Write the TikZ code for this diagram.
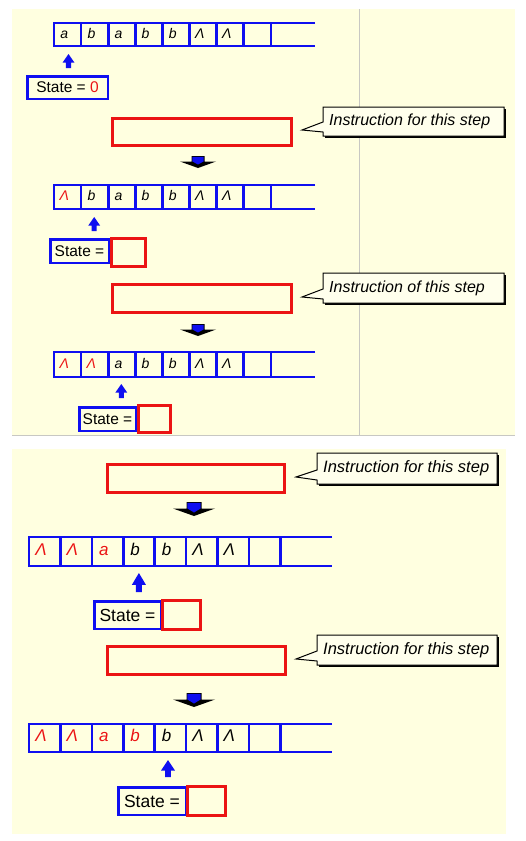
\documentclass[tikz,border=0pt]{standalone}
\usepackage{fontspec}
\setmainfont{Liberation Sans}
\definecolor{bgy}{RGB}{255,255,224}
\definecolor{calloutbg}{RGB}{255,255,236}
\definecolor{tblue}{RGB}{15,15,240}
\definecolor{tred}{RGB}{235,20,20}
\definecolor{panelline}{RGB}{200,200,195}
\newcommand\fsz[1]{\fontsize{#1}{#1}\selectfont}
% #1 prefix, #2 x0, #3 ytop, #4 ybot, #5 cell width, #6 x end, #7 font size, #8 cells
\newcommand\tapedraw[8]{%
  \draw[tapeline] (#6,#3) -- (#2,#3) -- (#2,#4) -- (#6,#4);
  \foreach \k in {1,...,8} \draw[tapeline] ({#2+\k*#5},#3) -- ({#2+\k*#5},#4);
  \foreach \clr/\ltr [count=\i from 0] in {#8}
    \node[cell,text=\clr,font=\fsz{#7}\itshape] (#1-\i) at ({#2+(\i+0.38)*#5},{(#3+#4)/2}) {\ltr};
}
% up arrow: #1 x, #2 y tip, #3 y bottom, #4 half width
\newcommand\headarrow[4]{%
  \fill[tblue] (#1,#2) -- ({#1+#4},{#2+0.62*(#3-#2)}) -- ({#1+0.42*#4},{#2+0.62*(#3-#2)})
   -- ({#1+0.42*#4},#3) -- ({#1-0.42*#4},#3) -- ({#1-0.42*#4},{#2+0.62*(#3-#2)})
   -- ({#1-#4},{#2+0.62*(#3-#2)}) -- cycle;
}
% down block arrow: #1 x centre, #2 y top, #3 y head base, #4 y tip, #5 stem half width, #6 head half width
\newcommand\steparrow[6]{%
  \fill[black] ({#1-#5},#2) -- ({#1+#5},#2) -- ({#1+#5},#3) -- ({#1+#6},#3) -- (#1,#4)
    -- ({#1-#6},#3) -- ({#1-#5},#3) -- cycle;
  \fill[tblue] ({#1-#5+0.9},{#2+0.8}) -- ({#1+#5-0.9},{#2+0.8}) -- ({#1+#5-0.9},#3)
    -- (#1,{#4-3.5}) -- ({#1-#5+0.9},#3) -- cycle;
}
% callout: #1 name, #2 x1, #3 y top, #4 x2, #5 y bottom, #6 tip x, #7 tip y, #8 text, #9 font size
\newcommand\callout[9]{%
  \fill[black] ({#2+2.2},{#3+2.2}) -- ({#4+2.2},{#3+2.2}) -- ({#4+2.2},{#5+2.2}) -- ({#2+2.2},{#5+2.2}) -- cycle;
  \path[calloutshape] (#2,#3) -- (#4,#3) -- (#4,#5) -- (#2,#5) -- (#2,{#5-4}) -- (#6,#7)
    -- (#2,{#5-14}) -- cycle;
  \node[anchor=west,inner sep=0pt,font=\fsz{#9}\itshape] (#1) at ({#2+6},{(#3+#5)/2}) {#8};
}
\begin{document}
\begin{tikzpicture}[x=1pt,y=-1pt,
  tapeline/.style={draw=tblue,line width=2.6pt},
  cell/.style={inner sep=0pt,anchor=center,text height=0.7em,text depth=0pt},
  statebox/.style={draw=tblue,line width=2.5pt,inner sep=0pt},
  stateval/.style={draw=tred,line width=3pt,inner sep=0pt},
  instr/.style={draw=tred,line width=3pt,inner sep=0pt},
  calloutshape/.style={draw=black,line width=1pt,fill=calloutbg},
]
\useasboundingbox (0,0) rectangle (525,841);
\fill[white] (0,0) rectangle (525,841);
% panels
\fill[bgy] (12,9) rectangle (515,435);
\draw[panelline] (359,9) -- (359,435);
\draw[panelline] (12,435) -- (515,435);
\fill[bgy] (12,449) rectangle (506,834);

% ---------- top panel ----------
\tapedraw{t1}{54}{23}{46}{27.1}{315}{14}{black/a,black/b,black/a,black/b,black/b,black/Λ,black/Λ}
\headarrow{68.5}{54}{68}{6}
\node[statebox,minimum width=80.5,minimum height=22.5,font=\fsz{15.5}] (s1) at (67.5,87.5) {State = \textcolor{tred}{0}};
\node[instr,minimum width=179,minimum height=27] (r1) at (202,132) {};
\callout{c1}{323}{107}{504}{136}{302}{130}{Instruction for this step}{16}
\steparrow{198}{156}{161.5}{168}{6.5}{18}

\tapedraw{t2}{54}{185}{209}{27.1}{315}{14}{tred/Λ,black/b,black/a,black/b,black/b,black/Λ,black/Λ}
\headarrow{94.2}{217}{231}{6}
\node[statebox,minimum width=58.5,minimum height=23.5,font=\fsz{15.5}] (s2) at (79.5,251) {State =};
\node[stateval,minimum width=34,minimum height=28] (v2) at (128.5,252.5) {};
\node[instr,minimum width=179,minimum height=28] (r2) at (202,298.5) {};
\callout{c2}{323}{273}{504}{303}{302}{297}{Instruction of this step}{16}
\steparrow{198}{324}{329.5}{336}{6.5}{18}

\tapedraw{t3}{54}{352}{377}{27.1}{315}{14}{tred/Λ,tred/Λ,black/a,black/b,black/b,black/Λ,black/Λ}
\headarrow{121.3}{384}{398}{6}
\node[statebox,minimum width=56.5,minimum height=23.5,font=\fsz{15.5}] (s3) at (107.5,419) {State =};
\node[stateval,minimum width=32,minimum height=27] (v3) at (154.5,419) {};

% ---------- bottom panel ----------
\node[instr,minimum width=177,minimum height=28] (r3) at (196,478.5) {};
\callout{c3}{317}{453}{497}{484}{296}{477}{Instruction for this step}{16.5}
\steparrow{194}{502}{508.5}{516}{7.5}{21}

\tapedraw{t4}{29}{537}{566}{31.4}{332}{17}{tred/Λ,tred/Λ,tred/a,black/b,black/b,black/Λ,black/Λ}
\headarrow{138.9}{573}{592}{7}
\node[statebox,minimum width=66.5,minimum height=27.5,font=\fsz{17.5}] (s4) at (127.5,615) {State =};
\node[stateval,minimum width=38,minimum height=29] (v4) at (181.5,615) {};
\node[instr,minimum width=178,minimum height=28] (r4) at (196.5,660.5) {};
\callout{c4}{317}{635}{497}{665}{296}{659}{Instruction for this step}{16.5}
\steparrow{194}{693}{699.5}{707}{7.5}{21}

\tapedraw{t5}{29}{724}{752}{31.4}{332}{17}{tred/Λ,tred/Λ,tred/a,tred/b,black/b,black/Λ,black/Λ}
\headarrow{168}{760}{777}{7}
\node[statebox,minimum width=67.5,minimum height=27.5,font=\fsz{17.5}] (s5) at (152,801) {State =};
\node[stateval,minimum width=38,minimum height=29] (v5) at (206.5,801) {};
\end{tikzpicture}
\end{document}
